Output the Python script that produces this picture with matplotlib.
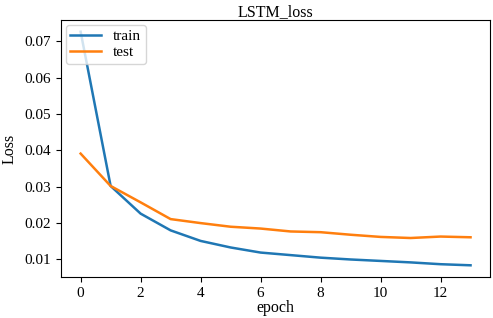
import matplotlib
matplotlib.use("Agg")
import matplotlib.pyplot as plt

plt.rcParams['font.family'] = ['Liberation Serif', 'DejaVu Serif']
plt.rcParams['font.size'] = 11

epochs = list(range(14))
train_loss = [0.0726, 0.0302, 0.0226, 0.0180, 0.0151, 0.0133, 0.0119, 0.0112,
              0.0105, 0.0100, 0.0096, 0.0092, 0.0087, 0.0084]
test_loss = [0.0391, 0.0302, 0.0257, 0.0211, 0.0200, 0.0190, 0.0185, 0.0177,
             0.0175, 0.0168, 0.0162, 0.0159, 0.0163, 0.0161]

fig = plt.figure(figsize=(4.93, 3.18), dpi=100)
ax = fig.add_axes([0.124, 0.129, 0.870, 0.808])
ax.plot(epochs, train_loss, label='train', lw=1.8)
ax.plot(epochs, test_loss, label='test', lw=1.8)
ax.set_title('LSTM_loss', fontsize=11.5, pad=2.5)
ax.set_xlabel('epoch', fontsize=11.5, labelpad=0)
ax.set_ylabel('Loss', fontsize=11.5, labelpad=5)
ax.set_xticks([0, 2, 4, 6, 8, 10, 12])
ax.set_yticks([0.01, 0.02, 0.03, 0.04, 0.05, 0.06, 0.07])
ax.legend(loc='upper left', fontsize=11, labelspacing=0.17,
          borderpad=0.3, borderaxespad=0.3, handletextpad=0.8)
fig.savefig('out.png', dpi=100)
